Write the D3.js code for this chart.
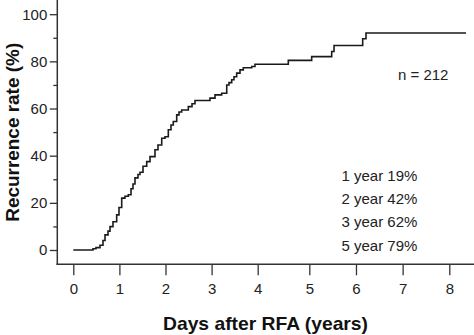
<!DOCTYPE html>
<html><head><meta charset="utf-8">
<script src="https://cdn.jsdelivr.net/npm/d3@7"></script>
<style>body{margin:0;background:#fff}svg{display:block}text{font-family:"Liberation Sans",Arial,sans-serif}</style>
</head><body><svg id="c" width="474" height="335"></svg>
<script>
// step times (years) and cumulative recurrence (%)
const times = [0,0.427,0.492,0.579,0.644,0.688,0.753,0.796,0.861,0.941,0.991,1.050,1.121,1.193,1.252,1.295,1.338,1.403,1.447,1.512,1.592,1.664,1.772,1.837,1.918,1.989,2.061,2.119,2.169,2.243,2.293,2.351,2.495,2.575,2.640,2.965,3.074,3.219,3.328,3.377,3.436,3.486,3.544,3.616,3.688,3.870,3.941,4.593,5.051,5.480,5.530,6.144,6.215,8.358];
const rates = [0,0.5,1,2,4,6.4,8,9.9,12,14.9,18,22,22.8,23.4,26,28,30.6,32,33,35.5,37.5,39.6,42.5,44.5,47.4,48,51,53,54.5,57.3,58.5,59.4,60.8,62,63.4,64.4,65.8,66.5,70,71,72.2,73.5,75,76.4,77.3,77.8,78.8,80.4,82,84.2,86.7,89.6,92,92];
const xTicks = [0,1,2,3,4,5,6,7,8];
const yTicks = [0,20,40,60,80,100];
const yMinor = [10,30,50,70,90];
const annotN = "n = 212";
const annotRates = ["1 year 19%","2 year 42%","3 year 62%","5 year 79%"];

const svg = d3.select("#c");
const x = d3.scaleLinear().domain([0,4,5,8]).range([73.3,257.7,309.3,449.3]);
const y = d3.scaleLinear().domain([0,100]).range([250,14.2]);
const axisColor = "#333";
const font = "'Liberation Sans',Arial,sans-serif";

// y axis line
svg.append("line").attr("x1",57.3).attr("x2",57.3).attr("y1",0).attr("y2",265)
  .attr("stroke",axisColor).attr("stroke-width",1.5);
// x axis line
svg.append("line").attr("x1",56.5).attr("x2",474).attr("y1",264.3).attr("y2",264.3)
  .attr("stroke",axisColor).attr("stroke-width",1.5);

const gy = svg.append("g").attr("transform","translate(57.3,0)")
  .call(d3.axisLeft(y).tickValues(yTicks).tickSize(7.5).tickPadding(2.5));
gy.select(".domain").remove();
gy.selectAll("line").attr("stroke",axisColor).attr("stroke-width",1.3);
gy.selectAll("text").attr("font-size",15).attr("fill","#222").style("font-family",font);
const gym = svg.append("g").attr("transform","translate(57.3,0)")
  .call(d3.axisLeft(y).tickValues(yMinor).tickSize(4).tickFormat(""));
gym.select(".domain").remove();
gym.selectAll("line").attr("stroke",axisColor).attr("stroke-width",1.3);

const gx = svg.append("g").attr("transform","translate(0,264.3)")
  .call(d3.axisBottom(x).tickValues(xTicks).tickSize(11).tickPadding(8));
gx.select(".domain").remove();
gx.selectAll("line").attr("stroke",axisColor).attr("stroke-width",1.3);
gx.selectAll("text").attr("font-size",15).attr("fill","#222").style("font-family",font);

// curve
const pts = times.map((t,i)=>[t,rates[i]]);
svg.append("path").datum(pts)
  .attr("d", d3.line().x(d=>x(d[0])).y(d=>y(d[1])).curve(d3.curveStepAfter))
  .attr("fill","none").attr("stroke","#1a1a1a").attr("stroke-width",1.6);

// titles
svg.append("text").attr("x",265.5).attr("y",330).attr("text-anchor","middle")
  .attr("font-size",19).attr("font-weight","bold").attr("fill","#111")
  .attr("textLength",205).attr("lengthAdjust","spacingAndGlyphs").text("Days after RFA (years)");
svg.append("text").attr("transform","translate(18.5,132.3) rotate(-90)").attr("text-anchor","middle")
  .attr("font-size",19).attr("font-weight","bold").attr("fill","#111")
  .attr("textLength",179).attr("lengthAdjust","spacingAndGlyphs").text("Recurrence rate (%)");

// annotations
svg.append("text").attr("x",398).attr("y",79.5).attr("font-size",15).attr("fill","#222").text(annotN);
annotRates.forEach((s,i)=>{
  svg.append("text").attr("x",341.5).attr("y",180.5+i*23.4).attr("font-size",15).attr("fill","#222").text(s);
});
</script></body></html>
